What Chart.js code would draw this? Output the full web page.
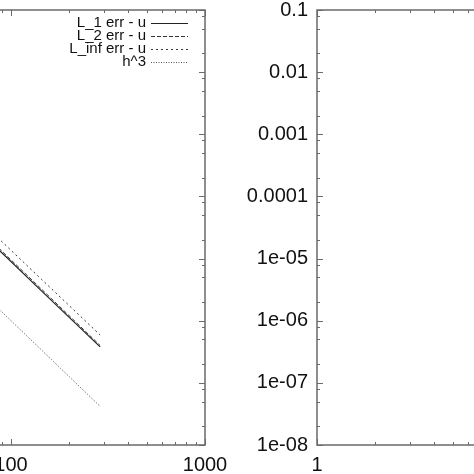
<!DOCTYPE html>
<html>
<head>
<meta charset="utf-8">
<script src="https://cdn.jsdelivr.net/npm/chart.js@4.4.1/dist/chart.umd.min.js"></script>
<style>
  html, body { margin: 0; padding: 0; background: #fff; overflow: hidden; width: 474px; height: 474px; }
  canvas { position: absolute; top: 0; }
  #left { left: -263px; }
  #right { left: 237px; }
</style>
</head>
<body>
<canvas id="left" width="500" height="474"></canvas>
<canvas id="right" width="700" height="474"></canvas>
<script>
// grid sizes and errors
const nCells = [36, 72, 144, 288]
const errL1 = [1.9e-4, 2.4e-5, 3.0e-6, 3.8e-7]
const errL2 = [2.0e-4, 2.55e-5, 3.2e-6, 4.0e-7]
const errLinf = [2.8e-4, 3.6e-5, 4.6e-6, 5.9e-7]
const hCubed = [2.14e-5, 2.68e-6, 3.35e-7, 4.19e-8]
const seriesNames = ['L_1 err - u', 'L_2 err - u', 'L_inf err - u', 'h^3']

// axis ticks
const yTicks = [1e-8, 1e-7, 1e-6, 1e-5, 1e-4, 1e-3, 1e-2, 1e-1]
const yTickLabels = ['1e-08', '1e-07', '1e-06', '1e-05', '0.0001', '0.001', '0.01', '0.1']
const xTicksLeft = [10, 100, 1000]
const xTickLabelsLeft = ['10', '100', '1000']
const xTicksRight = [1, 10, 100, 1000]
const xTickLabelsRight = ['1', '10', '100', '1000']

const FONT = "'Liberation Sans', Arial, sans-serif"
const INK = '#111'
const FRAME = '#6a6a6a'

function minorTicks(min, max, mults) {
  const out = []
  for (let d = Math.floor(Math.log10(min)); d <= Math.ceil(Math.log10(max)); d++) {
    mults.forEach(m => {
      const v = m * Math.pow(10, d)
      if (v > min && v < max) out.push(v)
    })
  }
  return out
}

// gnuplot style border with inward ticks on all four sides
const gnuFrame = {
  id: 'gnuFrame',
  afterDatasetsDraw(chart) {
    const { ctx, chartArea: a } = chart
    const x = chart.scales.x, y = chart.scales.y
    ctx.save()
    ctx.strokeStyle = FRAME
    ctx.lineWidth = 1
    ctx.beginPath()
    const xt = x.ticks.map(t => [t.value, 6]).concat(minorTicks(x.min, x.max, [2, 3, 4, 5, 6, 7, 8, 9]).map(v => [v, 3]))
    xt.forEach(([v, len]) => {
      const px = Math.round(x.getPixelForValue(v)) + 0.5
      ctx.moveTo(px, a.bottom); ctx.lineTo(px, a.bottom - len)
      ctx.moveTo(px, a.top); ctx.lineTo(px, a.top + len)
    })
    const yt = y.ticks.map(t => [t.value, 6]).concat(minorTicks(y.min, y.max, [2, 5, 8]).map(v => [v, 3]))
    yt.forEach(([v, len]) => {
      const py = Math.round(y.getPixelForValue(v)) + 0.5
      ctx.moveTo(a.left, py); ctx.lineTo(a.left + len, py)
      ctx.moveTo(a.right, py); ctx.lineTo(a.right - len, py)
    })
    ctx.stroke()
    ctx.lineWidth = 1.5
    ctx.strokeRect(a.left, a.top, a.right - a.left, a.bottom - a.top)
    ctx.restore()
  }
}

// key in the top right corner: text, then a line sample
const gnuKey = {
  id: 'gnuKey',
  afterDraw(chart) {
    const { ctx, chartArea: a } = chart
    ctx.save()
    ctx.font = '15px ' + FONT
    ctx.fillStyle = INK
    ctx.textAlign = 'right'
    ctx.textBaseline = 'middle'
    chart.data.datasets.forEach((ds, i) => {
      const yy = a.top + 12.8 + 12.9 * i
      ctx.fillText(ds.label, a.right - 59, yy)
      ctx.strokeStyle = ds.borderColor
      ctx.lineWidth = ds.borderWidth
      ctx.setLineDash(ds.borderDash || [])
      ctx.beginPath()
      ctx.moveTo(a.right - 54, Math.round(yy) + 0.5)
      ctx.lineTo(a.right - 17, Math.round(yy) + 0.5)
      ctx.stroke()
    })
    ctx.restore()
  }
}

function fixBox(size, key) {
  return s => {
    s[key] = size
    s.paddingLeft = 0; s.paddingRight = 0; s.paddingTop = 0; s.paddingBottom = 0
  }
}

function makeScales(xMin, xMax, xTicks, xLabels) {
  return {
    x: {
      type: 'logarithmic', min: xMin, max: xMax,
      grid: { display: false, drawTicks: false }, border: { display: false },
      afterBuildTicks: s => { s.ticks = xTicks.map(v => ({ value: v })) },
      afterFit: fixBox(29, 'height'),
      ticks: {
        autoSkip: false, maxRotation: 0, padding: 8, color: INK,
        font: { family: FONT, size: 20 },
        callback: (v, i) => xLabels[i]
      }
    },
    y: {
      type: 'logarithmic', min: 1e-8, max: 0.1,
      grid: { display: false, drawTicks: false }, border: { display: false },
      afterBuildTicks: s => { s.ticks = yTicks.map(v => ({ value: v })) },
      afterFit: fixBox(80, 'width'),
      ticks: {
        autoSkip: false, padding: 9, color: INK,
        font: { family: FONT, size: 20 },
        callback: (v, i) => yTickLabels[i]
      }
    }
  }
}

function series(label, ys, color, dash, width) {
  return {
    label: label,
    data: nCells.map((n, i) => ({ x: n, y: ys[i] })),
    borderColor: color, borderWidth: width, borderDash: dash,
    pointRadius: 0, fill: false, tension: 0
  }
}

new Chart(document.getElementById('left'), {
  type: 'line',
  data: {
    datasets: [
      series(seriesNames[0], errL1, '#222', [], 1.2),
      series(seriesNames[1], errL2, '#333', [4, 2], 1),
      series(seriesNames[2], errLinf, '#3a3a3a', [2, 3], 1),
      series(seriesNames[3], hCubed, '#555', [1, 1.5], 1)
    ]
  },
  options: {
    responsive: false, animation: false, devicePixelRatio: 1,
    layout: { padding: { left: 0, right: 32, top: 10, bottom: 0 } },
    plugins: { legend: { display: false }, tooltip: { enabled: false } },
    scales: makeScales(10, 1000, xTicksLeft, xTickLabelsLeft)
  },
  plugins: [gnuFrame, gnuKey]
})

new Chart(document.getElementById('right'), {
  type: 'line',
  data: { datasets: [] },
  options: {
    responsive: false, animation: false, devicePixelRatio: 1,
    layout: { padding: { left: 0, right: 38, top: 10, bottom: 0 } },
    plugins: { legend: { display: false }, tooltip: { enabled: false } },
    scales: makeScales(1, 1000, xTicksRight, xTickLabelsRight)
  },
  plugins: [gnuFrame]
})
</script>
</body>
</html>
